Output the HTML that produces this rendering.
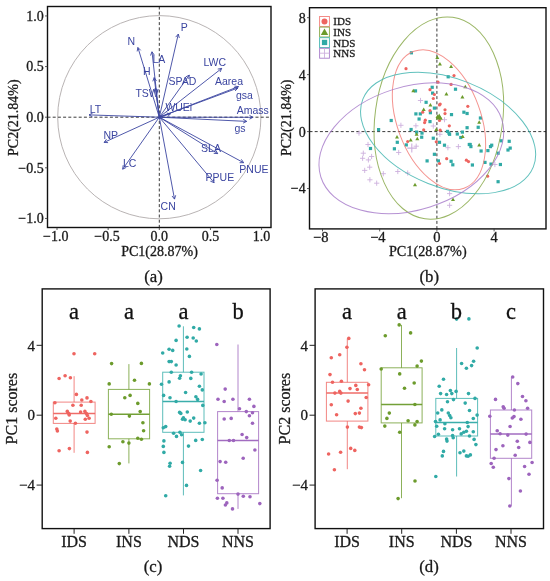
<!DOCTYPE html>
<html><head><meta charset="utf-8"><style>
html,body{margin:0;padding:0;background:#fff;width:550px;height:581px;overflow:hidden}
svg{display:block;font-family:"Liberation Serif", serif;will-change:transform;filter:blur(0.35px)}
text[fill="#1a1a1a"],text[fill="#111"]{stroke:#1a1a1a;stroke-width:0.3px}
</style></head><body>
<svg width="550" height="581" viewBox="0 0 550 581">
<rect width="550" height="581" fill="#fff"/>
<g id="pa">
<circle cx="159.3" cy="117.2" r="101.6" fill="none" stroke="#b9b4b4" stroke-width="1"/>
<line x1="47.5" y1="117.2" x2="271" y2="117.2" stroke="#3a3a3a" stroke-width="1" stroke-dasharray="3,2.2"/>
<line x1="159.3" y1="6.5" x2="159.3" y2="227.5" stroke="#3a3a3a" stroke-width="1" stroke-dasharray="3,2.2"/>
<line x1="159.3" y1="117.2" x2="178.30" y2="34.10" stroke="#3b45a0" stroke-width="0.9"/>
<polyline points="175.68,37.12 178.30,34.10 179.34,37.96" fill="none" stroke="#3b45a0" stroke-width="0.9"/>
<line x1="159.3" y1="117.2" x2="137.90" y2="47.50" stroke="#3b45a0" stroke-width="0.9"/>
<polyline points="137.14,51.43 137.90,47.50 140.73,50.33" fill="none" stroke="#3b45a0" stroke-width="0.9"/>
<line x1="159.3" y1="117.2" x2="152.00" y2="51.80" stroke="#3b45a0" stroke-width="0.9"/>
<polyline points="150.53,55.52 152.00,51.80 154.26,55.10" fill="none" stroke="#3b45a0" stroke-width="0.9"/>
<line x1="159.3" y1="117.2" x2="154.20" y2="77.60" stroke="#3b45a0" stroke-width="0.9"/>
<polyline points="152.79,81.34 154.20,77.60 156.51,80.86" fill="none" stroke="#3b45a0" stroke-width="0.9"/>
<line x1="159.3" y1="117.2" x2="155.40" y2="88.00" stroke="#3b45a0" stroke-width="0.9"/>
<polyline points="154.01,91.75 155.40,88.00 157.73,91.25" fill="none" stroke="#3b45a0" stroke-width="0.9"/>
<line x1="159.3" y1="117.2" x2="189.30" y2="75.10" stroke="#3b45a0" stroke-width="0.9"/>
<polyline points="185.72,76.89 189.30,75.10 188.78,79.07" fill="none" stroke="#3b45a0" stroke-width="0.9"/>
<line x1="159.3" y1="117.2" x2="221.70" y2="68.40" stroke="#3b45a0" stroke-width="0.9"/>
<polyline points="217.76,69.10 221.70,68.40 220.07,72.05" fill="none" stroke="#3b45a0" stroke-width="0.9"/>
<line x1="159.3" y1="117.2" x2="237.80" y2="88.00" stroke="#3b45a0" stroke-width="0.9"/>
<polyline points="233.84,87.47 237.80,88.00 235.14,90.99" fill="none" stroke="#3b45a0" stroke-width="0.9"/>
<line x1="159.3" y1="117.2" x2="238.50" y2="86.60" stroke="#3b45a0" stroke-width="0.9"/>
<polyline points="234.53,86.12 238.50,86.60 235.88,89.62" fill="none" stroke="#3b45a0" stroke-width="0.9"/>
<line x1="159.3" y1="117.2" x2="170.50" y2="113.80" stroke="#3b45a0" stroke-width="0.9"/>
<polyline points="166.58,113.03 170.50,113.80 167.67,116.62" fill="none" stroke="#3b45a0" stroke-width="0.9"/>
<line x1="159.3" y1="117.2" x2="253.00" y2="117.30" stroke="#3b45a0" stroke-width="0.9"/>
<polyline points="249.47,115.42 253.00,117.30 249.47,119.17" fill="none" stroke="#3b45a0" stroke-width="0.9"/>
<line x1="159.3" y1="117.2" x2="246.70" y2="121.40" stroke="#3b45a0" stroke-width="0.9"/>
<polyline points="243.26,119.35 246.70,121.40 243.08,123.11" fill="none" stroke="#3b45a0" stroke-width="0.9"/>
<line x1="159.3" y1="117.2" x2="89.00" y2="114.90" stroke="#3b45a0" stroke-width="0.9"/>
<polyline points="92.47,116.89 89.00,114.90 92.59,113.14" fill="none" stroke="#3b45a0" stroke-width="0.9"/>
<line x1="159.3" y1="117.2" x2="104.10" y2="142.40" stroke="#3b45a0" stroke-width="0.9"/>
<polyline points="108.09,142.64 104.10,142.40 106.53,139.22" fill="none" stroke="#3b45a0" stroke-width="0.9"/>
<line x1="159.3" y1="117.2" x2="122.70" y2="169.20" stroke="#3b45a0" stroke-width="0.9"/>
<polyline points="126.27,167.39 122.70,169.20 123.20,165.23" fill="none" stroke="#3b45a0" stroke-width="0.9"/>
<line x1="159.3" y1="117.2" x2="217.70" y2="153.60" stroke="#3b45a0" stroke-width="0.9"/>
<polyline points="215.70,150.14 217.70,153.60 213.71,153.33" fill="none" stroke="#3b45a0" stroke-width="0.9"/>
<line x1="159.3" y1="117.2" x2="243.60" y2="162.70" stroke="#3b45a0" stroke-width="0.9"/>
<polyline points="241.38,159.37 243.60,162.70 239.60,162.68" fill="none" stroke="#3b45a0" stroke-width="0.9"/>
<line x1="159.3" y1="117.2" x2="214.10" y2="182.70" stroke="#3b45a0" stroke-width="0.9"/>
<polyline points="213.27,178.79 214.10,182.70 210.39,181.20" fill="none" stroke="#3b45a0" stroke-width="0.9"/>
<line x1="159.3" y1="117.2" x2="174.50" y2="199.10" stroke="#3b45a0" stroke-width="0.9"/>
<polyline points="175.70,195.28 174.50,199.10 172.01,195.97" fill="none" stroke="#3b45a0" stroke-width="0.9"/>
<text x="184.2" y="30.80" font-family="Liberation Sans, sans-serif" font-size="10.5" text-anchor="middle" fill="#3b45a0">P</text>
<text x="131.3" y="45.10" font-family="Liberation Sans, sans-serif" font-size="10.5" text-anchor="middle" fill="#3b45a0">N</text>
<text x="158.9" y="63.20" font-family="Liberation Sans, sans-serif" font-size="10.5" text-anchor="middle" fill="#3b45a0">LA</text>
<text x="146.8" y="74.90" font-family="Liberation Sans, sans-serif" font-size="10.5" text-anchor="middle" fill="#3b45a0">H</text>
<text x="147.1" y="96.70" font-family="Liberation Sans, sans-serif" font-size="10.5" text-anchor="middle" fill="#3b45a0">TSW</text>
<text x="182.5" y="85.40" font-family="Liberation Sans, sans-serif" font-size="10.5" text-anchor="middle" fill="#3b45a0">SPAD</text>
<text x="214.7" y="66.10" font-family="Liberation Sans, sans-serif" font-size="10.5" text-anchor="middle" fill="#3b45a0">LWC</text>
<text x="229.0" y="84.50" font-family="Liberation Sans, sans-serif" font-size="10.5" text-anchor="middle" fill="#3b45a0">Aarea</text>
<text x="244.4" y="98.60" font-family="Liberation Sans, sans-serif" font-size="10.5" text-anchor="middle" fill="#3b45a0">gsa</text>
<text x="178.8" y="111.10" font-family="Liberation Sans, sans-serif" font-size="10.5" text-anchor="middle" fill="#3b45a0">WUEi</text>
<text x="252.7" y="114.20" font-family="Liberation Sans, sans-serif" font-size="10.5" text-anchor="middle" fill="#3b45a0">Amass</text>
<text x="240.0" y="131.90" font-family="Liberation Sans, sans-serif" font-size="10.5" text-anchor="middle" fill="#3b45a0">gs</text>
<text x="95.5" y="112.90" font-family="Liberation Sans, sans-serif" font-size="10.5" text-anchor="middle" fill="#3b45a0">LT</text>
<text x="110.8" y="139.10" font-family="Liberation Sans, sans-serif" font-size="10.5" text-anchor="middle" fill="#3b45a0">NP</text>
<text x="129.7" y="166.60" font-family="Liberation Sans, sans-serif" font-size="10.5" text-anchor="middle" fill="#3b45a0">LC</text>
<text x="211.0" y="152.20" font-family="Liberation Sans, sans-serif" font-size="10.5" text-anchor="middle" fill="#3b45a0">SLA</text>
<text x="253.9" y="173.10" font-family="Liberation Sans, sans-serif" font-size="10.5" text-anchor="middle" fill="#3b45a0">PNUE</text>
<text x="219.9" y="180.60" font-family="Liberation Sans, sans-serif" font-size="10.5" text-anchor="middle" fill="#3b45a0">PPUE</text>
<text x="168.2" y="210.20" font-family="Liberation Sans, sans-serif" font-size="10.5" text-anchor="middle" fill="#3b45a0">CN</text>
<rect x="47.5" y="6.5" width="223.5" height="221" fill="none" stroke="#111" stroke-width="1.4"/>
<line x1="57.00" y1="227.5" x2="57.00" y2="230" stroke="#333" stroke-width="0.8"/>
<line x1="45" y1="218.45" x2="47.5" y2="218.45" stroke="#333" stroke-width="0.8"/>
<line x1="108.15" y1="227.5" x2="108.15" y2="230" stroke="#333" stroke-width="0.8"/>
<line x1="45" y1="167.82" x2="47.5" y2="167.82" stroke="#333" stroke-width="0.8"/>
<line x1="159.30" y1="227.5" x2="159.30" y2="230" stroke="#333" stroke-width="0.8"/>
<line x1="45" y1="117.20" x2="47.5" y2="117.20" stroke="#333" stroke-width="0.8"/>
<line x1="210.45" y1="227.5" x2="210.45" y2="230" stroke="#333" stroke-width="0.8"/>
<line x1="45" y1="66.58" x2="47.5" y2="66.58" stroke="#333" stroke-width="0.8"/>
<line x1="261.60" y1="227.5" x2="261.60" y2="230" stroke="#333" stroke-width="0.8"/>
<line x1="45" y1="15.95" x2="47.5" y2="15.95" stroke="#333" stroke-width="0.8"/>
<text x="55.80" y="241.3" font-size="14" text-anchor="middle" fill="#1a1a1a">−1.0</text>
<text x="43.7" y="223.35" font-size="14" text-anchor="end" fill="#1a1a1a">−1.0</text>
<text x="106.95" y="241.3" font-size="14" text-anchor="middle" fill="#1a1a1a">−0.5</text>
<text x="43.7" y="172.72" font-size="14" text-anchor="end" fill="#1a1a1a">−0.5</text>
<text x="159.30" y="241.3" font-size="14" text-anchor="middle" fill="#1a1a1a">0.0</text>
<text x="43.7" y="122.10" font-size="14" text-anchor="end" fill="#1a1a1a">0.0</text>
<text x="210.45" y="241.3" font-size="14" text-anchor="middle" fill="#1a1a1a">0.5</text>
<text x="43.7" y="71.48" font-size="14" text-anchor="end" fill="#1a1a1a">0.5</text>
<text x="261.60" y="241.3" font-size="14" text-anchor="middle" fill="#1a1a1a">1.0</text>
<text x="43.7" y="20.85" font-size="14" text-anchor="end" fill="#1a1a1a">1.0</text>
<text x="159.5" y="255.5" font-size="14" text-anchor="middle" fill="#1a1a1a">PC1(28.87%)</text>
<text transform="translate(18.4,117.6) rotate(-90)" x="0" y="0" font-size="14" text-anchor="middle" fill="#1a1a1a">PC2(21.84%)</text>
<text x="153.5" y="282.3" font-size="16.8" text-anchor="middle" fill="#1a1a1a">(a)</text>
</g>
<g id="pb">
<line x1="309.5" y1="131.6" x2="546" y2="131.6" stroke="#3a3a3a" stroke-width="1" stroke-dasharray="3,2.2"/>
<line x1="436.9" y1="7.7" x2="436.9" y2="228.9" stroke="#3a3a3a" stroke-width="1" stroke-dasharray="3,2.2"/>
<path d="M417.90,100.50H423.10M420.50,97.90V103.10" stroke="#CDB0DE" stroke-width="0.9"/>
<path d="M441.90,119.70H447.10M444.50,117.10V122.30" stroke="#CDB0DE" stroke-width="0.9"/>
<path d="M398.30,125.30H403.50M400.90,122.70V127.90" stroke="#CDB0DE" stroke-width="0.9"/>
<path d="M413.30,125.80H418.50M415.90,123.20V128.40" stroke="#CDB0DE" stroke-width="0.9"/>
<path d="M430.70,126.00H435.90M433.30,123.40V128.60" stroke="#CDB0DE" stroke-width="0.9"/>
<path d="M437.30,134.30H442.50M439.90,131.70V136.90" stroke="#CDB0DE" stroke-width="0.9"/>
<path d="M413.60,146.20H418.80M416.20,143.60V148.80" stroke="#CDB0DE" stroke-width="0.9"/>
<path d="M445.30,147.70H450.50M447.90,145.10V150.30" stroke="#CDB0DE" stroke-width="0.9"/>
<path d="M455.80,146.60H461.00M458.40,144.00V149.20" stroke="#CDB0DE" stroke-width="0.9"/>
<path d="M396.10,152.50H401.30M398.70,149.90V155.10" stroke="#CDB0DE" stroke-width="0.9"/>
<path d="M356.40,133.10H361.60M359.00,130.50V135.70" stroke="#CDB0DE" stroke-width="0.9"/>
<path d="M365.40,144.50H370.60M368.00,141.90V147.10" stroke="#CDB0DE" stroke-width="0.9"/>
<path d="M360.70,153.20H365.90M363.30,150.60V155.80" stroke="#CDB0DE" stroke-width="0.9"/>
<path d="M360.00,158.30H365.20M362.60,155.70V160.90" stroke="#CDB0DE" stroke-width="0.9"/>
<path d="M365.80,159.90H371.00M368.40,157.30V162.50" stroke="#CDB0DE" stroke-width="0.9"/>
<path d="M369.00,156.50H374.20M371.60,153.90V159.10" stroke="#CDB0DE" stroke-width="0.9"/>
<path d="M367.10,167.20H372.30M369.70,164.60V169.80" stroke="#CDB0DE" stroke-width="0.9"/>
<path d="M362.10,170.40H367.30M364.70,167.80V173.00" stroke="#CDB0DE" stroke-width="0.9"/>
<path d="M380.70,173.70H385.90M383.30,171.10V176.30" stroke="#CDB0DE" stroke-width="0.9"/>
<path d="M367.30,179.80H372.50M369.90,177.20V182.40" stroke="#CDB0DE" stroke-width="0.9"/>
<path d="M374.10,183.20H379.30M376.70,180.60V185.80" stroke="#CDB0DE" stroke-width="0.9"/>
<path d="M395.20,171.50H400.40M397.80,168.90V174.10" stroke="#CDB0DE" stroke-width="0.9"/>
<path d="M405.10,173.00H410.30M407.70,170.40V175.60" stroke="#CDB0DE" stroke-width="0.9"/>
<path d="M447.00,193.60H452.20M449.60,191.00V196.20" stroke="#CDB0DE" stroke-width="0.9"/>
<path d="M447.00,205.30H452.20M449.60,202.70V207.90" stroke="#CDB0DE" stroke-width="0.9"/>
<path d="M492.30,164.50H497.50M494.90,161.90V167.10" stroke="#CDB0DE" stroke-width="0.9"/>
<path d="M411.8,143.6V152.6M407.3,148.1H416.3" stroke="#CDB0DE" stroke-width="1.1"/>
<rect x="409.80" y="51.20" width="3.2" height="3.2" fill="#30AAA6"/>
<rect x="446.60" y="75.20" width="3.2" height="3.2" fill="#30AAA6"/>
<rect x="430.60" y="85.70" width="3.2" height="3.2" fill="#30AAA6"/>
<rect x="453.90" y="87.60" width="3.2" height="3.2" fill="#30AAA6"/>
<rect x="413.90" y="89.30" width="3.2" height="3.2" fill="#30AAA6"/>
<rect x="431.00" y="91.50" width="3.2" height="3.2" fill="#30AAA6"/>
<rect x="424.50" y="100.70" width="3.2" height="3.2" fill="#30AAA6"/>
<rect x="432.80" y="106.50" width="3.2" height="3.2" fill="#30AAA6"/>
<rect x="428.80" y="111.10" width="3.2" height="3.2" fill="#30AAA6"/>
<rect x="414.30" y="112.30" width="3.2" height="3.2" fill="#30AAA6"/>
<rect x="418.70" y="112.30" width="3.2" height="3.2" fill="#30AAA6"/>
<rect x="449.90" y="113.00" width="3.2" height="3.2" fill="#30AAA6"/>
<rect x="462.30" y="110.60" width="3.2" height="3.2" fill="#30AAA6"/>
<rect x="465.50" y="111.90" width="3.2" height="3.2" fill="#30AAA6"/>
<rect x="417.50" y="117.40" width="3.2" height="3.2" fill="#30AAA6"/>
<rect x="428.40" y="120.00" width="3.2" height="3.2" fill="#30AAA6"/>
<rect x="389.60" y="118.90" width="3.2" height="3.2" fill="#30AAA6"/>
<rect x="465.50" y="126.10" width="3.2" height="3.2" fill="#30AAA6"/>
<rect x="409.50" y="127.90" width="3.2" height="3.2" fill="#30AAA6"/>
<rect x="415.00" y="130.50" width="3.2" height="3.2" fill="#30AAA6"/>
<rect x="445.90" y="129.80" width="3.2" height="3.2" fill="#30AAA6"/>
<rect x="447.30" y="131.50" width="3.2" height="3.2" fill="#30AAA6"/>
<rect x="448.00" y="132.70" width="3.2" height="3.2" fill="#30AAA6"/>
<rect x="455.70" y="132.40" width="3.2" height="3.2" fill="#30AAA6"/>
<rect x="460.80" y="130.50" width="3.2" height="3.2" fill="#30AAA6"/>
<rect x="420.40" y="131.50" width="3.2" height="3.2" fill="#30AAA6"/>
<rect x="420.10" y="135.60" width="3.2" height="3.2" fill="#30AAA6"/>
<rect x="459.20" y="135.90" width="3.2" height="3.2" fill="#30AAA6"/>
<rect x="395.70" y="140.70" width="3.2" height="3.2" fill="#30AAA6"/>
<rect x="431.70" y="136.60" width="3.2" height="3.2" fill="#30AAA6"/>
<rect x="437.90" y="140.70" width="3.2" height="3.2" fill="#30AAA6"/>
<rect x="404.70" y="143.30" width="3.2" height="3.2" fill="#30AAA6"/>
<rect x="392.80" y="147.20" width="3.2" height="3.2" fill="#30AAA6"/>
<rect x="442.90" y="143.60" width="3.2" height="3.2" fill="#30AAA6"/>
<rect x="467.70" y="142.90" width="3.2" height="3.2" fill="#30AAA6"/>
<rect x="432.80" y="152.70" width="3.2" height="3.2" fill="#30AAA6"/>
<rect x="478.80" y="116.40" width="3.2" height="3.2" fill="#30AAA6"/>
<rect x="476.60" y="125.70" width="3.2" height="3.2" fill="#30AAA6"/>
<rect x="468.60" y="142.90" width="3.2" height="3.2" fill="#30AAA6"/>
<rect x="469.30" y="145.00" width="3.2" height="3.2" fill="#30AAA6"/>
<rect x="479.50" y="149.40" width="3.2" height="3.2" fill="#30AAA6"/>
<rect x="486.30" y="149.00" width="3.2" height="3.2" fill="#30AAA6"/>
<rect x="488.90" y="145.00" width="3.2" height="3.2" fill="#30AAA6"/>
<rect x="490.10" y="143.60" width="3.2" height="3.2" fill="#30AAA6"/>
<rect x="499.60" y="139.20" width="3.2" height="3.2" fill="#30AAA6"/>
<rect x="507.60" y="139.70" width="3.2" height="3.2" fill="#30AAA6"/>
<rect x="508.60" y="146.50" width="3.2" height="3.2" fill="#30AAA6"/>
<rect x="506.40" y="148.40" width="3.2" height="3.2" fill="#30AAA6"/>
<rect x="496.50" y="151.60" width="3.2" height="3.2" fill="#30AAA6"/>
<rect x="377.00" y="128.00" width="3.2" height="3.2" fill="#30AAA6"/>
<rect x="368.90" y="146.90" width="3.2" height="3.2" fill="#30AAA6"/>
<rect x="425.50" y="159.30" width="3.2" height="3.2" fill="#30AAA6"/>
<rect x="436.80" y="159.30" width="3.2" height="3.2" fill="#30AAA6"/>
<rect x="449.50" y="159.70" width="3.2" height="3.2" fill="#30AAA6"/>
<rect x="451.20" y="163.20" width="3.2" height="3.2" fill="#30AAA6"/>
<rect x="470.80" y="163.40" width="3.2" height="3.2" fill="#30AAA6"/>
<rect x="483.40" y="160.80" width="3.2" height="3.2" fill="#30AAA6"/>
<rect x="489.40" y="162.50" width="3.2" height="3.2" fill="#30AAA6"/>
<rect x="498.80" y="162.90" width="3.2" height="3.2" fill="#30AAA6"/>
<rect x="496.50" y="180.10" width="3.2" height="3.2" fill="#30AAA6"/>
<circle cx="406" cy="68.7" r="1.6" fill="#EE6460"/>
<circle cx="454" cy="75.6" r="1.6" fill="#EE6460"/>
<circle cx="438" cy="82.2" r="1.6" fill="#EE6460"/>
<circle cx="451.1" cy="84.4" r="1.6" fill="#EE6460"/>
<circle cx="430" cy="89.7" r="1.6" fill="#EE6460"/>
<circle cx="434.4" cy="94.5" r="1.6" fill="#EE6460"/>
<circle cx="433.3" cy="98.5" r="1.6" fill="#EE6460"/>
<circle cx="439.5" cy="104.9" r="1.6" fill="#EE6460"/>
<circle cx="440.2" cy="104" r="1.6" fill="#EE6460"/>
<circle cx="467.8" cy="106.3" r="1.6" fill="#EE6460"/>
<circle cx="422.7" cy="112.2" r="1.6" fill="#EE6460"/>
<circle cx="430" cy="110.6" r="1.6" fill="#EE6460"/>
<circle cx="445" cy="109.8" r="1.6" fill="#EE6460"/>
<circle cx="445" cy="113.6" r="1.6" fill="#EE6460"/>
<circle cx="439.5" cy="120.5" r="1.6" fill="#EE6460"/>
<circle cx="425.3" cy="120.2" r="1.6" fill="#EE6460"/>
<circle cx="424.6" cy="122.6" r="1.6" fill="#EE6460"/>
<circle cx="449.3" cy="125.8" r="1.6" fill="#EE6460"/>
<circle cx="423.7" cy="129.9" r="1.6" fill="#EE6460"/>
<circle cx="440.2" cy="130.2" r="1.6" fill="#EE6460"/>
<circle cx="407.7" cy="141.5" r="1.6" fill="#EE6460"/>
<circle cx="436.3" cy="141.8" r="1.6" fill="#EE6460"/>
<circle cx="439.5" cy="163.5" r="1.6" fill="#EE6460"/>
<circle cx="446.7" cy="158.7" r="1.6" fill="#EE6460"/>
<circle cx="466.4" cy="160.2" r="1.6" fill="#EE6460"/>
<circle cx="468.5" cy="161.6" r="1.6" fill="#EE6460"/>
<circle cx="487.6" cy="176.2" r="1.6" fill="#EE6460"/>
<path d="M437.30,55.40L439.30,58.90L435.30,58.90Z" fill="#6C9B2C"/>
<path d="M439.90,61.90L441.90,65.40L437.90,65.40Z" fill="#6C9B2C"/>
<path d="M451.10,64.40L453.10,67.90L449.10,67.90Z" fill="#6C9B2C"/>
<path d="M465.30,84.70L467.30,88.20L463.30,88.20Z" fill="#6C9B2C"/>
<path d="M413.30,88.80L415.30,92.30L411.30,92.30Z" fill="#6C9B2C"/>
<path d="M446.40,92.00L448.40,95.50L444.40,95.50Z" fill="#6C9B2C"/>
<path d="M462.40,94.90L464.40,98.40L460.40,98.40Z" fill="#6C9B2C"/>
<path d="M430.40,103.10L432.40,106.60L428.40,106.60Z" fill="#6C9B2C"/>
<path d="M423.70,107.40L425.70,110.90L421.70,110.90Z" fill="#6C9B2C"/>
<path d="M439.20,115.40L441.20,118.90L437.20,118.90Z" fill="#6C9B2C"/>
<path d="M437.50,114.40L439.50,117.90L435.50,117.90Z" fill="#6C9B2C"/>
<path d="M440.50,116.10L442.50,119.60L438.50,119.60Z" fill="#6C9B2C"/>
<path d="M436.30,127.40L438.30,130.90L434.30,130.90Z" fill="#6C9B2C"/>
<path d="M416.60,132.20L418.60,135.70L414.60,135.70Z" fill="#6C9B2C"/>
<path d="M462.70,134.40L464.70,137.90L460.70,137.90Z" fill="#6C9B2C"/>
<path d="M397.00,135.10L399.00,138.60L395.00,138.60Z" fill="#6C9B2C"/>
<path d="M417.30,136.80L419.30,140.30L415.30,140.30Z" fill="#6C9B2C"/>
<path d="M410.70,138.00L412.70,141.50L408.70,141.50Z" fill="#6C9B2C"/>
<path d="M479.20,120.20L481.20,123.70L477.20,123.70Z" fill="#6C9B2C"/>
<path d="M479.20,143.10L481.20,146.60L477.20,146.60Z" fill="#6C9B2C"/>
<path d="M415.00,182.80L417.00,186.30L413.00,186.30Z" fill="#6C9B2C"/>
<path d="M453.00,197.40L455.00,200.90L451.00,200.90Z" fill="#6C9B2C"/>
<path d="M439.2,113.6L442.6,119.6L435.8,119.6Z" fill="#6C9B2C"/>
<ellipse cx="438.98" cy="119.76" rx="41.83" ry="72.88" transform="rotate(159.89 438.98 119.76)" fill="none" stroke="#F2807B" stroke-width="1" stroke-opacity="0.85"/>
<ellipse cx="438.85" cy="118.04" rx="63.8" ry="101.7" transform="rotate(-172.14 438.85 118.04)" fill="none" stroke="#88A94A" stroke-width="1" stroke-opacity="0.85"/>
<ellipse cx="448.11" cy="133.03" rx="54.22" ry="91.74" transform="rotate(111.68 448.11 133.03)" fill="none" stroke="#45B6B1" stroke-width="1" stroke-opacity="0.85"/>
<ellipse cx="411.35" cy="148.27" rx="61.52" ry="94.97" transform="rotate(72.39 411.35 148.27)" fill="none" stroke="#A97FCB" stroke-width="1" stroke-opacity="0.85"/>
<g>
<rect x="319.6" y="16.50" width="9.8" height="9.9" fill="#fff" stroke="#F2807B" stroke-width="0.9"/>
<rect x="319.6" y="27.10" width="9.8" height="9.9" fill="#fff" stroke="#88A94A" stroke-width="0.9"/>
<rect x="319.6" y="37.70" width="9.8" height="9.9" fill="#fff" stroke="#45B6B1" stroke-width="0.9"/>
<rect x="319.6" y="48.30" width="9.8" height="9.9" fill="#fff" stroke="#A97FCB" stroke-width="0.9"/>
<circle cx="324.5" cy="21.4" r="3.0" fill="#EE6460"/>
<path d="M324.5,28.4L328.2,34.9L320.8,34.9Z" fill="#6C9B2C"/>
<rect x="321.9" y="39.8" width="5.3" height="5.3" fill="#30AAA6"/>
<path d="M319.6,53.2H329.4M324.5,48.3V58.1" stroke="#CDB0DE" stroke-width="0.9"/>
<text x="333.3" y="25.3" font-size="11" fill="#1a1a1a">IDS</text>
<text x="333.3" y="35.9" font-size="11" fill="#1a1a1a">INS</text>
<text x="333.3" y="46.5" font-size="11" fill="#1a1a1a">NDS</text>
<text x="333.3" y="57.1" font-size="11" fill="#1a1a1a">NNS</text>
</g>
<rect x="309.5" y="7.7" width="236.5" height="221.2" fill="none" stroke="#111" stroke-width="1.4"/>
<line x1="322.50" y1="228.9" x2="322.50" y2="231.4" stroke="#333" stroke-width="0.8"/>
<text x="320.70" y="242.3" font-size="14.5" text-anchor="middle" fill="#1a1a1a">−8</text>
<line x1="379.70" y1="228.9" x2="379.70" y2="231.4" stroke="#333" stroke-width="0.8"/>
<text x="377.90" y="242.3" font-size="14.5" text-anchor="middle" fill="#1a1a1a">−4</text>
<line x1="436.90" y1="228.9" x2="436.90" y2="231.4" stroke="#333" stroke-width="0.8"/>
<text x="436.90" y="242.3" font-size="14.5" text-anchor="middle" fill="#1a1a1a">0</text>
<line x1="494.10" y1="228.9" x2="494.10" y2="231.4" stroke="#333" stroke-width="0.8"/>
<text x="494.10" y="242.3" font-size="14.5" text-anchor="middle" fill="#1a1a1a">4</text>
<line x1="307" y1="17.68" x2="309.5" y2="17.68" stroke="#333" stroke-width="0.8"/>
<text x="305.7" y="22.58" font-size="14" text-anchor="end" fill="#1a1a1a">8</text>
<line x1="307" y1="74.64" x2="309.5" y2="74.64" stroke="#333" stroke-width="0.8"/>
<text x="305.7" y="79.54" font-size="14" text-anchor="end" fill="#1a1a1a">4</text>
<line x1="307" y1="131.60" x2="309.5" y2="131.60" stroke="#333" stroke-width="0.8"/>
<text x="305.7" y="136.50" font-size="14" text-anchor="end" fill="#1a1a1a">0</text>
<line x1="307" y1="188.56" x2="309.5" y2="188.56" stroke="#333" stroke-width="0.8"/>
<text x="305.7" y="193.46" font-size="14" text-anchor="end" fill="#1a1a1a">−4</text>
<text x="427.8" y="256" font-size="14.2" text-anchor="middle" fill="#1a1a1a">PC1(28.87%)</text>
<text transform="translate(291,117.8) rotate(-90)" x="0" y="0" font-size="14" text-anchor="middle" fill="#1a1a1a">PC2(21.84%)</text>
<text x="429.3" y="282.3" font-size="16.8" text-anchor="middle" fill="#1a1a1a">(b)</text>
</g>
<g>
<g stroke="#EE6460" stroke-opacity="0.78" fill="none"><line x1="74.1" y1="376.2" x2="74.1" y2="402.1" stroke-width="1"/>
<line x1="74.1" y1="423.4" x2="74.1" y2="452.8" stroke-width="1"/>
<rect x="53.3" y="402.1" width="41.80" height="21.30" stroke-width="1"/>
<line x1="53.3" y1="413.5" x2="95.1" y2="413.5" stroke-width="1.5" stroke-opacity="0.95"/></g>
<g stroke="#6C9B2C" stroke-opacity="0.78" fill="none"><line x1="128.9" y1="364.1" x2="128.9" y2="389.4" stroke-width="1"/>
<line x1="128.9" y1="438.8" x2="128.9" y2="463.4" stroke-width="1"/>
<rect x="108.4" y="389.4" width="41.20" height="49.40" stroke-width="1"/>
<line x1="108.4" y1="414.2" x2="149.6" y2="414.2" stroke-width="1.5" stroke-opacity="0.95"/></g>
<g stroke="#30AAA6" stroke-opacity="0.78" fill="none"><line x1="183.4" y1="326.3" x2="183.4" y2="372.2" stroke-width="1"/>
<line x1="183.4" y1="432.3" x2="183.4" y2="495.4" stroke-width="1"/>
<rect x="162.7" y="372.2" width="41.30" height="60.10" stroke-width="1"/>
<line x1="162.7" y1="401.5" x2="204.0" y2="401.5" stroke-width="1.5" stroke-opacity="0.95"/></g>
<g stroke="#9D64BD" stroke-opacity="0.78" fill="none"><line x1="238.0" y1="344.5" x2="238.0" y2="411.6" stroke-width="1"/>
<line x1="238.0" y1="493.7" x2="238.0" y2="508.9" stroke-width="1"/>
<rect x="217.6" y="411.6" width="41.00" height="82.10" stroke-width="1"/>
<line x1="217.6" y1="440.5" x2="258.6" y2="440.5" stroke-width="1.5" stroke-opacity="0.95"/></g>
<circle cx="74" cy="353.7" r="1.8" fill="#EE6460"/>
<circle cx="94.7" cy="353.7" r="1.8" fill="#EE6460"/>
<circle cx="59.1" cy="378.5" r="1.8" fill="#EE6460"/>
<circle cx="65.1" cy="375.8" r="1.8" fill="#EE6460"/>
<circle cx="70.4" cy="377.7" r="1.8" fill="#EE6460"/>
<circle cx="76.4" cy="394.4" r="1.8" fill="#EE6460"/>
<circle cx="81.8" cy="400" r="1.8" fill="#EE6460"/>
<circle cx="87" cy="397.9" r="1.8" fill="#EE6460"/>
<circle cx="90.9" cy="401.5" r="1.8" fill="#EE6460"/>
<circle cx="54.9" cy="402.7" r="1.8" fill="#EE6460"/>
<circle cx="72.9" cy="405.2" r="1.8" fill="#EE6460"/>
<circle cx="81.2" cy="405.2" r="1.8" fill="#EE6460"/>
<circle cx="67.3" cy="411.4" r="1.8" fill="#EE6460"/>
<circle cx="68.8" cy="413.5" r="1.8" fill="#EE6460"/>
<circle cx="69.2" cy="414.9" r="1.8" fill="#EE6460"/>
<circle cx="80.6" cy="412" r="1.8" fill="#EE6460"/>
<circle cx="84.9" cy="411.4" r="1.8" fill="#EE6460"/>
<circle cx="86.4" cy="413.5" r="1.8" fill="#EE6460"/>
<circle cx="87.4" cy="415.5" r="1.8" fill="#EE6460"/>
<circle cx="55.8" cy="418.2" r="1.8" fill="#EE6460"/>
<circle cx="85.3" cy="419.2" r="1.8" fill="#EE6460"/>
<circle cx="89.1" cy="418.2" r="1.8" fill="#EE6460"/>
<circle cx="70.2" cy="421.1" r="1.8" fill="#EE6460"/>
<circle cx="75.4" cy="423.2" r="1.8" fill="#EE6460"/>
<circle cx="56.8" cy="429" r="1.8" fill="#EE6460"/>
<circle cx="57.4" cy="431" r="1.8" fill="#EE6460"/>
<circle cx="87" cy="432.1" r="1.8" fill="#EE6460"/>
<circle cx="59.1" cy="450.7" r="1.8" fill="#EE6460"/>
<circle cx="69.4" cy="448.6" r="1.8" fill="#EE6460"/>
<circle cx="87.4" cy="452.4" r="1.8" fill="#EE6460"/>
<circle cx="111.6" cy="363.6" r="1.8" fill="#6C9B2C"/>
<circle cx="141.4" cy="363.4" r="1.8" fill="#6C9B2C"/>
<circle cx="109.2" cy="383.9" r="1.8" fill="#6C9B2C"/>
<circle cx="134.5" cy="380.2" r="1.8" fill="#6C9B2C"/>
<circle cx="149.4" cy="383.9" r="1.8" fill="#6C9B2C"/>
<circle cx="124.8" cy="397.8" r="1.8" fill="#6C9B2C"/>
<circle cx="130.1" cy="395.4" r="1.8" fill="#6C9B2C"/>
<circle cx="137.8" cy="403.4" r="1.8" fill="#6C9B2C"/>
<circle cx="140.2" cy="411.6" r="1.8" fill="#6C9B2C"/>
<circle cx="111.3" cy="414.2" r="1.8" fill="#6C9B2C"/>
<circle cx="129.4" cy="416.1" r="1.8" fill="#6C9B2C"/>
<circle cx="142.9" cy="422.7" r="1.8" fill="#6C9B2C"/>
<circle cx="143.6" cy="430.8" r="1.8" fill="#6C9B2C"/>
<circle cx="137.8" cy="438.3" r="1.8" fill="#6C9B2C"/>
<circle cx="141.4" cy="439.3" r="1.8" fill="#6C9B2C"/>
<circle cx="122.9" cy="441.7" r="1.8" fill="#6C9B2C"/>
<circle cx="128.9" cy="443.1" r="1.8" fill="#6C9B2C"/>
<circle cx="109.2" cy="446.7" r="1.8" fill="#6C9B2C"/>
<circle cx="119.3" cy="463.6" r="1.8" fill="#6C9B2C"/>
<circle cx="179.1" cy="326" r="1.8" fill="#30AAA6"/>
<circle cx="193.7" cy="327.5" r="1.8" fill="#30AAA6"/>
<circle cx="199.4" cy="328.9" r="1.8" fill="#30AAA6"/>
<circle cx="176.1" cy="340.4" r="1.8" fill="#30AAA6"/>
<circle cx="187.1" cy="337.2" r="1.8" fill="#30AAA6"/>
<circle cx="193.2" cy="338" r="1.8" fill="#30AAA6"/>
<circle cx="196.3" cy="341" r="1.8" fill="#30AAA6"/>
<circle cx="162.7" cy="353" r="1.8" fill="#30AAA6"/>
<circle cx="169.1" cy="349.2" r="1.8" fill="#30AAA6"/>
<circle cx="172.7" cy="350.4" r="1.8" fill="#30AAA6"/>
<circle cx="186.8" cy="349" r="1.8" fill="#30AAA6"/>
<circle cx="189.4" cy="356.4" r="1.8" fill="#30AAA6"/>
<circle cx="169.1" cy="361.6" r="1.8" fill="#30AAA6"/>
<circle cx="171.3" cy="361.6" r="1.8" fill="#30AAA6"/>
<circle cx="176.1" cy="365" r="1.8" fill="#30AAA6"/>
<circle cx="171.3" cy="372.2" r="1.8" fill="#30AAA6"/>
<circle cx="191.6" cy="372.2" r="1.8" fill="#30AAA6"/>
<circle cx="201.1" cy="374" r="1.8" fill="#30AAA6"/>
<circle cx="180.4" cy="375.7" r="1.8" fill="#30AAA6"/>
<circle cx="179.6" cy="378.2" r="1.8" fill="#30AAA6"/>
<circle cx="190.8" cy="378.4" r="1.8" fill="#30AAA6"/>
<circle cx="169.1" cy="381.9" r="1.8" fill="#30AAA6"/>
<circle cx="161.5" cy="384.3" r="1.8" fill="#30AAA6"/>
<circle cx="199.4" cy="386.2" r="1.8" fill="#30AAA6"/>
<circle cx="202.3" cy="389.9" r="1.8" fill="#30AAA6"/>
<circle cx="185.6" cy="392.5" r="1.8" fill="#30AAA6"/>
<circle cx="163.6" cy="395.4" r="1.8" fill="#30AAA6"/>
<circle cx="170" cy="397.7" r="1.8" fill="#30AAA6"/>
<circle cx="195.9" cy="396.8" r="1.8" fill="#30AAA6"/>
<circle cx="197.6" cy="399.4" r="1.8" fill="#30AAA6"/>
<circle cx="176.1" cy="401.5" r="1.8" fill="#30AAA6"/>
<circle cx="202.8" cy="405.4" r="1.8" fill="#30AAA6"/>
<circle cx="179.6" cy="412.4" r="1.8" fill="#30AAA6"/>
<circle cx="180.8" cy="413.4" r="1.8" fill="#30AAA6"/>
<circle cx="187.3" cy="412" r="1.8" fill="#30AAA6"/>
<circle cx="183.4" cy="417.7" r="1.8" fill="#30AAA6"/>
<circle cx="182.5" cy="419.3" r="1.8" fill="#30AAA6"/>
<circle cx="185.1" cy="419.8" r="1.8" fill="#30AAA6"/>
<circle cx="193.7" cy="418.1" r="1.8" fill="#30AAA6"/>
<circle cx="190.2" cy="421.1" r="1.8" fill="#30AAA6"/>
<circle cx="199.4" cy="423.2" r="1.8" fill="#30AAA6"/>
<circle cx="204.9" cy="422.7" r="1.8" fill="#30AAA6"/>
<circle cx="163.3" cy="427.8" r="1.8" fill="#30AAA6"/>
<circle cx="165.7" cy="426.6" r="1.8" fill="#30AAA6"/>
<circle cx="173.6" cy="433.2" r="1.8" fill="#30AAA6"/>
<circle cx="179.9" cy="432.3" r="1.8" fill="#30AAA6"/>
<circle cx="181.6" cy="434.7" r="1.8" fill="#30AAA6"/>
<circle cx="176.5" cy="436.4" r="1.8" fill="#30AAA6"/>
<circle cx="163.9" cy="440.9" r="1.8" fill="#30AAA6"/>
<circle cx="195.7" cy="440.4" r="1.8" fill="#30AAA6"/>
<circle cx="202.3" cy="439.5" r="1.8" fill="#30AAA6"/>
<circle cx="163.3" cy="446.4" r="1.8" fill="#30AAA6"/>
<circle cx="188.5" cy="446.1" r="1.8" fill="#30AAA6"/>
<circle cx="163.9" cy="452.4" r="1.8" fill="#30AAA6"/>
<circle cx="170.1" cy="463.3" r="1.8" fill="#30AAA6"/>
<circle cx="169.6" cy="466.2" r="1.8" fill="#30AAA6"/>
<circle cx="182.5" cy="462.4" r="1.8" fill="#30AAA6"/>
<circle cx="200.6" cy="470.5" r="1.8" fill="#30AAA6"/>
<circle cx="186.5" cy="485.4" r="1.8" fill="#30AAA6"/>
<circle cx="165.7" cy="495.8" r="1.8" fill="#30AAA6"/>
<circle cx="216.8" cy="344.5" r="1.8" fill="#9D64BD"/>
<circle cx="225.2" cy="389.1" r="1.8" fill="#9D64BD"/>
<circle cx="218" cy="399.2" r="1.8" fill="#9D64BD"/>
<circle cx="224.2" cy="401.5" r="1.8" fill="#9D64BD"/>
<circle cx="232.9" cy="399.2" r="1.8" fill="#9D64BD"/>
<circle cx="249.4" cy="399.2" r="1.8" fill="#9D64BD"/>
<circle cx="253.9" cy="406.4" r="1.8" fill="#9D64BD"/>
<circle cx="239.5" cy="408.7" r="1.8" fill="#9D64BD"/>
<circle cx="246.3" cy="411.6" r="1.8" fill="#9D64BD"/>
<circle cx="252.5" cy="412.8" r="1.8" fill="#9D64BD"/>
<circle cx="249.4" cy="415.7" r="1.8" fill="#9D64BD"/>
<circle cx="224.2" cy="419" r="1.8" fill="#9D64BD"/>
<circle cx="231.2" cy="418.4" r="1.8" fill="#9D64BD"/>
<circle cx="252.5" cy="423.2" r="1.8" fill="#9D64BD"/>
<circle cx="242.1" cy="434.5" r="1.8" fill="#9D64BD"/>
<circle cx="246.7" cy="437.6" r="1.8" fill="#9D64BD"/>
<circle cx="229.3" cy="440.5" r="1.8" fill="#9D64BD"/>
<circle cx="233.5" cy="440.5" r="1.8" fill="#9D64BD"/>
<circle cx="254.9" cy="450" r="1.8" fill="#9D64BD"/>
<circle cx="243.2" cy="458.2" r="1.8" fill="#9D64BD"/>
<circle cx="220.1" cy="461.6" r="1.8" fill="#9D64BD"/>
<circle cx="225.7" cy="462.3" r="1.8" fill="#9D64BD"/>
<circle cx="217.1" cy="480.2" r="1.8" fill="#9D64BD"/>
<circle cx="222.2" cy="487.9" r="1.8" fill="#9D64BD"/>
<circle cx="238" cy="494.1" r="1.8" fill="#9D64BD"/>
<circle cx="243.3" cy="496.2" r="1.8" fill="#9D64BD"/>
<circle cx="250" cy="496.7" r="1.8" fill="#9D64BD"/>
<circle cx="217.4" cy="498.2" r="1.8" fill="#9D64BD"/>
<circle cx="222.9" cy="498.2" r="1.8" fill="#9D64BD"/>
<circle cx="226.8" cy="502.9" r="1.8" fill="#9D64BD"/>
<circle cx="225.4" cy="505" r="1.8" fill="#9D64BD"/>
<circle cx="232.5" cy="508.9" r="1.8" fill="#9D64BD"/>
<circle cx="259.8" cy="503.6" r="1.8" fill="#9D64BD"/>
<rect x="42.2" y="288.9" width="227.90" height="239.70" fill="none" stroke="#111" stroke-width="1.4"/>
<line x1="74.1" y1="528.6" x2="74.1" y2="533.8" stroke="#222" stroke-width="1"/>
<text x="74.1" y="546.5" font-size="16" text-anchor="middle" fill="#1a1a1a">IDS</text>
<line x1="128.9" y1="528.6" x2="128.9" y2="533.8" stroke="#222" stroke-width="1"/>
<text x="128.9" y="546.5" font-size="16" text-anchor="middle" fill="#1a1a1a">INS</text>
<line x1="183.5" y1="528.6" x2="183.5" y2="533.8" stroke="#222" stroke-width="1"/>
<text x="183.5" y="546.5" font-size="16" text-anchor="middle" fill="#1a1a1a">NDS</text>
<line x1="238.0" y1="528.6" x2="238.0" y2="533.8" stroke="#222" stroke-width="1"/>
<text x="238.0" y="546.5" font-size="16" text-anchor="middle" fill="#1a1a1a">NNS</text>
<line x1="36.6" y1="345.32" x2="42.2" y2="345.32" stroke="#222" stroke-width="1"/>
<text x="35.0" y="350.52" font-size="15" text-anchor="end" fill="#1a1a1a">4</text>
<line x1="36.6" y1="415.20" x2="42.2" y2="415.20" stroke="#222" stroke-width="1"/>
<text x="35.0" y="420.40" font-size="15" text-anchor="end" fill="#1a1a1a">0</text>
<line x1="36.6" y1="485.08" x2="42.2" y2="485.08" stroke="#222" stroke-width="1"/>
<text x="35.0" y="490.28" font-size="15" text-anchor="end" fill="#1a1a1a">−4</text>
<text x="74.1" y="318.8" font-size="22.5" text-anchor="middle" fill="#111">a</text>
<text x="128.9" y="318.8" font-size="22.5" text-anchor="middle" fill="#111">a</text>
<text x="183.5" y="318.8" font-size="22.5" text-anchor="middle" fill="#111">a</text>
<text x="238.0" y="318.8" font-size="22.5" text-anchor="middle" fill="#111">b</text>
<text transform="translate(16.6,408.6) rotate(-90)" x="0" y="0" font-size="16" text-anchor="middle" fill="#1a1a1a">PC1 scores</text>
<text x="153" y="572" font-size="16.8" text-anchor="middle" fill="#1a1a1a">(c)</text>
</g>
<g>
<g stroke="#EE6460" stroke-opacity="0.78" fill="none"><line x1="347.3" y1="338.4" x2="347.3" y2="382.3" stroke-width="1"/>
<line x1="347.3" y1="421.1" x2="347.3" y2="469.2" stroke-width="1"/>
<rect x="326.4" y="382.3" width="41.50" height="38.80" stroke-width="1"/>
<line x1="326.4" y1="393.1" x2="367.9" y2="393.1" stroke-width="1.5" stroke-opacity="0.95"/></g>
<g stroke="#6C9B2C" stroke-opacity="0.78" fill="none"><line x1="401.5" y1="324.9" x2="401.5" y2="367.8" stroke-width="1"/>
<line x1="401.5" y1="422.9" x2="401.5" y2="498.2" stroke-width="1"/>
<rect x="381.2" y="367.8" width="40.90" height="55.10" stroke-width="1"/>
<line x1="381.2" y1="404.5" x2="422.1" y2="404.5" stroke-width="1.5" stroke-opacity="0.95"/></g>
<g stroke="#30AAA6" stroke-opacity="0.78" fill="none"><line x1="456.6" y1="348.0" x2="456.6" y2="398.4" stroke-width="1"/>
<line x1="456.6" y1="436.0" x2="456.6" y2="476.5" stroke-width="1"/>
<rect x="435.8" y="398.4" width="41.80" height="37.60" stroke-width="1"/>
<line x1="435.8" y1="422.6" x2="477.6" y2="422.6" stroke-width="1.5" stroke-opacity="0.95"/></g>
<g stroke="#9D64BD" stroke-opacity="0.78" fill="none"><line x1="511.4" y1="377.2" x2="511.4" y2="410.0" stroke-width="1"/>
<line x1="511.4" y1="458.3" x2="511.4" y2="505.8" stroke-width="1"/>
<rect x="490.4" y="410.0" width="41.30" height="48.30" stroke-width="1"/>
<line x1="490.4" y1="434.1" x2="531.7" y2="434.1" stroke-width="1.5" stroke-opacity="0.95"/></g>
<circle cx="348.8" cy="338.4" r="1.8" fill="#EE6460"/>
<circle cx="346.9" cy="347.3" r="1.8" fill="#EE6460"/>
<circle cx="331.3" cy="357.7" r="1.8" fill="#EE6460"/>
<circle cx="339.7" cy="354.8" r="1.8" fill="#EE6460"/>
<circle cx="360.9" cy="363.7" r="1.8" fill="#EE6460"/>
<circle cx="364.5" cy="369.8" r="1.8" fill="#EE6460"/>
<circle cx="330" cy="374.6" r="1.8" fill="#EE6460"/>
<circle cx="332.5" cy="382.3" r="1.8" fill="#EE6460"/>
<circle cx="341.4" cy="381.3" r="1.8" fill="#EE6460"/>
<circle cx="355.8" cy="385.4" r="1.8" fill="#EE6460"/>
<circle cx="350" cy="388.6" r="1.8" fill="#EE6460"/>
<circle cx="357.3" cy="389.5" r="1.8" fill="#EE6460"/>
<circle cx="368.6" cy="384.7" r="1.8" fill="#EE6460"/>
<circle cx="334.9" cy="393.1" r="1.8" fill="#EE6460"/>
<circle cx="339.7" cy="391.4" r="1.8" fill="#EE6460"/>
<circle cx="340.9" cy="393.1" r="1.8" fill="#EE6460"/>
<circle cx="366.2" cy="397.5" r="1.8" fill="#EE6460"/>
<circle cx="348.1" cy="401.1" r="1.8" fill="#EE6460"/>
<circle cx="331.3" cy="404.7" r="1.8" fill="#EE6460"/>
<circle cx="360.9" cy="408.3" r="1.8" fill="#EE6460"/>
<circle cx="336.6" cy="414.8" r="1.8" fill="#EE6460"/>
<circle cx="355.3" cy="413.6" r="1.8" fill="#EE6460"/>
<circle cx="359.4" cy="413.1" r="1.8" fill="#EE6460"/>
<circle cx="347.4" cy="427.1" r="1.8" fill="#EE6460"/>
<circle cx="359.4" cy="427.1" r="1.8" fill="#EE6460"/>
<circle cx="361.4" cy="427.6" r="1.8" fill="#EE6460"/>
<circle cx="328.6" cy="454" r="1.8" fill="#EE6460"/>
<circle cx="340.6" cy="452.3" r="1.8" fill="#EE6460"/>
<circle cx="350.7" cy="448.4" r="1.8" fill="#EE6460"/>
<circle cx="354.8" cy="450.4" r="1.8" fill="#EE6460"/>
<circle cx="334.4" cy="469.7" r="1.8" fill="#EE6460"/>
<circle cx="399.2" cy="324.9" r="1.8" fill="#6C9B2C"/>
<circle cx="385.3" cy="335.8" r="1.8" fill="#6C9B2C"/>
<circle cx="410.6" cy="332.9" r="1.8" fill="#6C9B2C"/>
<circle cx="421.4" cy="361.1" r="1.8" fill="#6C9B2C"/>
<circle cx="417.1" cy="366.1" r="1.8" fill="#6C9B2C"/>
<circle cx="381.2" cy="369" r="1.8" fill="#6C9B2C"/>
<circle cx="399.7" cy="373.9" r="1.8" fill="#6C9B2C"/>
<circle cx="414.2" cy="383" r="1.8" fill="#6C9B2C"/>
<circle cx="404.5" cy="388.3" r="1.8" fill="#6C9B2C"/>
<circle cx="414.9" cy="404.5" r="1.8" fill="#6C9B2C"/>
<circle cx="389.3" cy="413.1" r="1.8" fill="#6C9B2C"/>
<circle cx="386.9" cy="418.4" r="1.8" fill="#6C9B2C"/>
<circle cx="408.1" cy="420.8" r="1.8" fill="#6C9B2C"/>
<circle cx="417.1" cy="421.6" r="1.8" fill="#6C9B2C"/>
<circle cx="414.9" cy="424.9" r="1.8" fill="#6C9B2C"/>
<circle cx="384.8" cy="426.1" r="1.8" fill="#6C9B2C"/>
<circle cx="399.7" cy="432.2" r="1.8" fill="#6C9B2C"/>
<circle cx="415" cy="481" r="1.8" fill="#6C9B2C"/>
<circle cx="398.1" cy="498.6" r="1.8" fill="#6C9B2C"/>
<circle cx="456.6" cy="319.1" r="1.8" fill="#30AAA6"/>
<circle cx="468.9" cy="318.9" r="1.8" fill="#30AAA6"/>
<circle cx="477.2" cy="348" r="1.8" fill="#30AAA6"/>
<circle cx="461.6" cy="363.5" r="1.8" fill="#30AAA6"/>
<circle cx="466.4" cy="368.2" r="1.8" fill="#30AAA6"/>
<circle cx="471.6" cy="365.6" r="1.8" fill="#30AAA6"/>
<circle cx="473.6" cy="361.3" r="1.8" fill="#30AAA6"/>
<circle cx="443.5" cy="379.3" r="1.8" fill="#30AAA6"/>
<circle cx="439.2" cy="386.2" r="1.8" fill="#30AAA6"/>
<circle cx="440.6" cy="393.6" r="1.8" fill="#30AAA6"/>
<circle cx="446.6" cy="394.5" r="1.8" fill="#30AAA6"/>
<circle cx="450.4" cy="390.5" r="1.8" fill="#30AAA6"/>
<circle cx="451.8" cy="393.6" r="1.8" fill="#30AAA6"/>
<circle cx="456.1" cy="391.4" r="1.8" fill="#30AAA6"/>
<circle cx="468.5" cy="393.6" r="1.8" fill="#30AAA6"/>
<circle cx="475" cy="398.4" r="1.8" fill="#30AAA6"/>
<circle cx="453.5" cy="399.6" r="1.8" fill="#30AAA6"/>
<circle cx="447.5" cy="401.7" r="1.8" fill="#30AAA6"/>
<circle cx="465.2" cy="403.1" r="1.8" fill="#30AAA6"/>
<circle cx="441.8" cy="409.9" r="1.8" fill="#30AAA6"/>
<circle cx="437.7" cy="413" r="1.8" fill="#30AAA6"/>
<circle cx="448.3" cy="413" r="1.8" fill="#30AAA6"/>
<circle cx="449.7" cy="415.6" r="1.8" fill="#30AAA6"/>
<circle cx="450.9" cy="417.7" r="1.8" fill="#30AAA6"/>
<circle cx="469.5" cy="410.5" r="1.8" fill="#30AAA6"/>
<circle cx="477.1" cy="415.1" r="1.8" fill="#30AAA6"/>
<circle cx="473.3" cy="418.5" r="1.8" fill="#30AAA6"/>
<circle cx="440.1" cy="419.9" r="1.8" fill="#30AAA6"/>
<circle cx="435.5" cy="421.6" r="1.8" fill="#30AAA6"/>
<circle cx="444.9" cy="423.7" r="1.8" fill="#30AAA6"/>
<circle cx="467.3" cy="422.5" r="1.8" fill="#30AAA6"/>
<circle cx="436.7" cy="426.3" r="1.8" fill="#30AAA6"/>
<circle cx="468.1" cy="426.6" r="1.8" fill="#30AAA6"/>
<circle cx="444.6" cy="428.8" r="1.8" fill="#30AAA6"/>
<circle cx="452.6" cy="429.7" r="1.8" fill="#30AAA6"/>
<circle cx="459.5" cy="428.8" r="1.8" fill="#30AAA6"/>
<circle cx="461.2" cy="433.9" r="1.8" fill="#30AAA6"/>
<circle cx="463.8" cy="432.2" r="1.8" fill="#30AAA6"/>
<circle cx="466.4" cy="431.3" r="1.8" fill="#30AAA6"/>
<circle cx="473.3" cy="431.7" r="1.8" fill="#30AAA6"/>
<circle cx="434.6" cy="436.5" r="1.8" fill="#30AAA6"/>
<circle cx="438.4" cy="434.3" r="1.8" fill="#30AAA6"/>
<circle cx="446.6" cy="439.1" r="1.8" fill="#30AAA6"/>
<circle cx="447" cy="441.1" r="1.8" fill="#30AAA6"/>
<circle cx="452.6" cy="435.6" r="1.8" fill="#30AAA6"/>
<circle cx="453.2" cy="437.7" r="1.8" fill="#30AAA6"/>
<circle cx="469.5" cy="436" r="1.8" fill="#30AAA6"/>
<circle cx="474.1" cy="439.4" r="1.8" fill="#30AAA6"/>
<circle cx="475.9" cy="444.6" r="1.8" fill="#30AAA6"/>
<circle cx="443.5" cy="451.4" r="1.8" fill="#30AAA6"/>
<circle cx="442.3" cy="455.9" r="1.8" fill="#30AAA6"/>
<circle cx="460" cy="452.8" r="1.8" fill="#30AAA6"/>
<circle cx="463.8" cy="451.1" r="1.8" fill="#30AAA6"/>
<circle cx="466.4" cy="455.9" r="1.8" fill="#30AAA6"/>
<circle cx="468.1" cy="456.3" r="1.8" fill="#30AAA6"/>
<circle cx="470.4" cy="454.9" r="1.8" fill="#30AAA6"/>
<circle cx="435.8" cy="476.5" r="1.8" fill="#30AAA6"/>
<circle cx="512.7" cy="377" r="1.8" fill="#9D64BD"/>
<circle cx="517.8" cy="383.6" r="1.8" fill="#9D64BD"/>
<circle cx="495.5" cy="399.4" r="1.8" fill="#9D64BD"/>
<circle cx="522.5" cy="396.5" r="1.8" fill="#9D64BD"/>
<circle cx="525.9" cy="400.8" r="1.8" fill="#9D64BD"/>
<circle cx="503.2" cy="406.8" r="1.8" fill="#9D64BD"/>
<circle cx="504.1" cy="408.3" r="1.8" fill="#9D64BD"/>
<circle cx="514.4" cy="410" r="1.8" fill="#9D64BD"/>
<circle cx="527.6" cy="408.3" r="1.8" fill="#9D64BD"/>
<circle cx="489.8" cy="416.2" r="1.8" fill="#9D64BD"/>
<circle cx="512.3" cy="418" r="1.8" fill="#9D64BD"/>
<circle cx="514" cy="416.6" r="1.8" fill="#9D64BD"/>
<circle cx="520.9" cy="419.2" r="1.8" fill="#9D64BD"/>
<circle cx="510.1" cy="426.5" r="1.8" fill="#9D64BD"/>
<circle cx="497.2" cy="430.8" r="1.8" fill="#9D64BD"/>
<circle cx="500.1" cy="433.8" r="1.8" fill="#9D64BD"/>
<circle cx="507.8" cy="435.1" r="1.8" fill="#9D64BD"/>
<circle cx="526.1" cy="434.1" r="1.8" fill="#9D64BD"/>
<circle cx="517.3" cy="441.2" r="1.8" fill="#9D64BD"/>
<circle cx="529.9" cy="442.4" r="1.8" fill="#9D64BD"/>
<circle cx="502.9" cy="445.8" r="1.8" fill="#9D64BD"/>
<circle cx="518.7" cy="447.5" r="1.8" fill="#9D64BD"/>
<circle cx="496" cy="449.6" r="1.8" fill="#9D64BD"/>
<circle cx="515.2" cy="455.3" r="1.8" fill="#9D64BD"/>
<circle cx="494.1" cy="458.3" r="1.8" fill="#9D64BD"/>
<circle cx="491.2" cy="463.5" r="1.8" fill="#9D64BD"/>
<circle cx="532.1" cy="462.5" r="1.8" fill="#9D64BD"/>
<circle cx="493.3" cy="467.2" r="1.8" fill="#9D64BD"/>
<circle cx="524.6" cy="466.5" r="1.8" fill="#9D64BD"/>
<circle cx="529" cy="474.3" r="1.8" fill="#9D64BD"/>
<circle cx="508.9" cy="478.6" r="1.8" fill="#9D64BD"/>
<circle cx="520.4" cy="491" r="1.8" fill="#9D64BD"/>
<circle cx="509.8" cy="506" r="1.8" fill="#9D64BD"/>
<rect x="315.1" y="288.9" width="228.40" height="239.70" fill="none" stroke="#111" stroke-width="1.4"/>
<line x1="347.1" y1="528.6" x2="347.1" y2="533.8" stroke="#222" stroke-width="1"/>
<text x="347.1" y="546.5" font-size="16" text-anchor="middle" fill="#1a1a1a">IDS</text>
<line x1="401.7" y1="528.6" x2="401.7" y2="533.8" stroke="#222" stroke-width="1"/>
<text x="401.7" y="546.5" font-size="16" text-anchor="middle" fill="#1a1a1a">INS</text>
<line x1="456.4" y1="528.6" x2="456.4" y2="533.8" stroke="#222" stroke-width="1"/>
<text x="456.4" y="546.5" font-size="16" text-anchor="middle" fill="#1a1a1a">NDS</text>
<line x1="511.0" y1="528.6" x2="511.0" y2="533.8" stroke="#222" stroke-width="1"/>
<text x="511.0" y="546.5" font-size="16" text-anchor="middle" fill="#1a1a1a">NNS</text>
<line x1="309.5" y1="345.32" x2="315.1" y2="345.32" stroke="#222" stroke-width="1"/>
<text x="307.90000000000003" y="350.52" font-size="15" text-anchor="end" fill="#1a1a1a">4</text>
<line x1="309.5" y1="415.20" x2="315.1" y2="415.20" stroke="#222" stroke-width="1"/>
<text x="307.90000000000003" y="420.40" font-size="15" text-anchor="end" fill="#1a1a1a">0</text>
<line x1="309.5" y1="485.08" x2="315.1" y2="485.08" stroke="#222" stroke-width="1"/>
<text x="307.90000000000003" y="490.28" font-size="15" text-anchor="end" fill="#1a1a1a">−4</text>
<text x="347.1" y="318.8" font-size="22.5" text-anchor="middle" fill="#111">a</text>
<text x="401.7" y="318.8" font-size="22.5" text-anchor="middle" fill="#111">a</text>
<text x="456.4" y="318.8" font-size="22.5" text-anchor="middle" fill="#111">b</text>
<text x="511.0" y="318.8" font-size="22.5" text-anchor="middle" fill="#111">c</text>
<text transform="translate(289.5,408.6) rotate(-90)" x="0" y="0" font-size="16" text-anchor="middle" fill="#1a1a1a">PC2 scores</text>
<text x="429" y="572" font-size="16.8" text-anchor="middle" fill="#1a1a1a">(d)</text>
</g>
</svg>
</body></html>
